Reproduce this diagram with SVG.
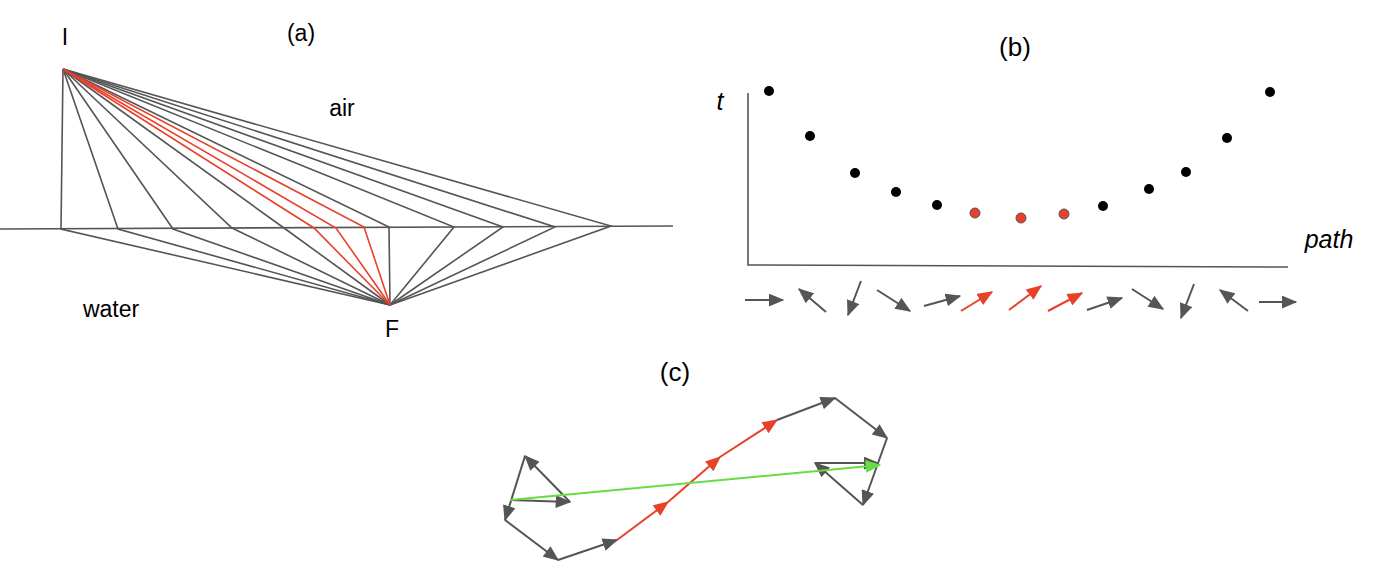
<svg xmlns="http://www.w3.org/2000/svg" width="1386" height="576" viewBox="0 0 1386 576">
<style>
.t{font-family:"Liberation Sans",Arial,sans-serif;font-size:23px;fill:#000;text-anchor:middle}
.it{font-style:italic;font-size:25px}
.g{stroke:#555;stroke-width:1.6;fill:none}
.r{stroke:#e8412a;stroke-width:1.6;fill:none}
.ga{stroke:#555;stroke-width:2;fill:none;marker-end:url(#hg)}
.ra{stroke:#e8412a;stroke-width:2;fill:none;marker-end:url(#hr)}
.gn{stroke:#66dd44;stroke-width:2;fill:none;marker-end:url(#hn)}
</style>
<defs>
<marker id="hg" viewBox="0 0 12 10" refX="11" refY="5" markerWidth="16" markerHeight="13" markerUnits="userSpaceOnUse" orient="auto"><path d="M0,0L12,5L0,10z" fill="#555"/></marker>
<marker id="hr" viewBox="0 0 12 10" refX="11" refY="5" markerWidth="16" markerHeight="13" markerUnits="userSpaceOnUse" orient="auto"><path d="M0,0L12,5L0,10z" fill="#e8412a"/></marker>
<marker id="hn" viewBox="0 0 12 10" refX="11" refY="5" markerWidth="16" markerHeight="13" markerUnits="userSpaceOnUse" orient="auto"><path d="M0,0L12,5L0,10z" fill="#66dd44"/></marker>
</defs>
<rect width="1386" height="576" fill="#fff"/>
<g id="panel-a">
<line class="g" x1="0" y1="229" x2="673" y2="226"/>
<polyline class="g" points="63,69 61,229 390,305"/>
<polyline class="g" points="63,69 118,229 390,305"/>
<polyline class="g" points="63,69 173,229 390,305"/>
<polyline class="g" points="63,69 232,228 390,305"/>
<polyline class="g" points="63,69 284,228 390,305"/>
<polyline class="g" points="63,69 389,227 390,305"/>
<polyline class="g" points="63,69 454,227 390,305"/>
<polyline class="g" points="63,69 503,227 390,305"/>
<polyline class="g" points="63,69 555,227 390,305"/>
<polyline class="g" points="63,69 611,226 390,305"/>
<polyline class="r" points="63,69 314,228 390,305"/>
<polyline class="r" points="63,69 336,228 390,305"/>
<polyline class="r" points="63,69 364,227 390,305"/>
<text class="t" x="65" y="45">I</text>
<text class="t" x="301" y="41">(a)</text>
<text class="t" x="342" y="116">air</text>
<text class="t" x="111" y="317">water</text>
<text class="t" x="392" y="337">F</text>
</g>
<g id="panel-b">
<polyline class="g" points="748,93 748,265 1288,267"/>
<text class="t it" x="720" y="110">t</text>
<text class="t it" x="1329" y="248">path</text>
<text class="t" x="1015" y="56" style="font-size:26px">(b)</text>
<g fill="#000">
<circle cx="769" cy="91" r="5"/><circle cx="810" cy="136" r="5"/><circle cx="855" cy="173" r="5"/><circle cx="896" cy="192" r="5"/><circle cx="937" cy="205" r="5"/>
<circle cx="1103" cy="206" r="5"/><circle cx="1149" cy="189" r="5"/><circle cx="1186" cy="172" r="5"/><circle cx="1227" cy="138" r="5"/><circle cx="1270" cy="92" r="5"/>
</g>
<g fill="#e8412a" stroke="#555" stroke-width="1">
<circle cx="975" cy="213" r="5"/><circle cx="1021" cy="218" r="5"/><circle cx="1064" cy="214" r="5"/>
</g>
<line class="ga" x1="745" y1="300" x2="783" y2="300"/>
<line class="ga" x1="826" y1="312" x2="799" y2="289"/>
<line class="ga" x1="861" y1="281" x2="848" y2="315"/>
<line class="ga" x1="877" y1="290" x2="910" y2="311"/>
<line class="ga" x1="924" y1="306" x2="960" y2="296"/>
<line class="ra" x1="961" y1="311" x2="992" y2="292"/>
<line class="ra" x1="1009" y1="310" x2="1041" y2="286"/>
<line class="ra" x1="1048" y1="311" x2="1082" y2="293"/>
<line class="ga" x1="1087" y1="310" x2="1122" y2="298"/>
<line class="ga" x1="1132" y1="289" x2="1163" y2="309"/>
<line class="ga" x1="1194" y1="284" x2="1181" y2="318"/>
<line class="ga" x1="1248" y1="311" x2="1220" y2="290"/>
<line class="ga" x1="1259" y1="302" x2="1296" y2="302"/>
</g>
<g id="panel-c">
<text class="t" x="675" y="381" style="font-size:26px">(c)</text>
<line class="ga" x1="510" y1="500" x2="570" y2="502"/>
<line class="ga" x1="570" y1="502" x2="525" y2="456"/>
<line class="ga" x1="525" y1="456" x2="505" y2="520"/>
<line class="ga" x1="505" y1="520" x2="558" y2="560"/>
<line class="ga" x1="558" y1="560" x2="617" y2="540"/>
<line class="ra" x1="617" y1="540" x2="668" y2="502"/>
<line class="ra" x1="668" y1="502" x2="720" y2="457"/>
<line class="ra" x1="720" y1="457" x2="777" y2="420"/>
<line class="ga" x1="777" y1="420" x2="835" y2="398"/>
<line class="ga" x1="835" y1="398" x2="887" y2="438"/>
<line class="ga" x1="887" y1="438" x2="863" y2="505"/>
<line class="ga" x1="863" y1="505" x2="815" y2="463"/>
<line class="ga" x1="815" y1="463" x2="878" y2="463"/>
<line class="gn" x1="510" y1="500" x2="880" y2="465"/>
</g>
</svg>
